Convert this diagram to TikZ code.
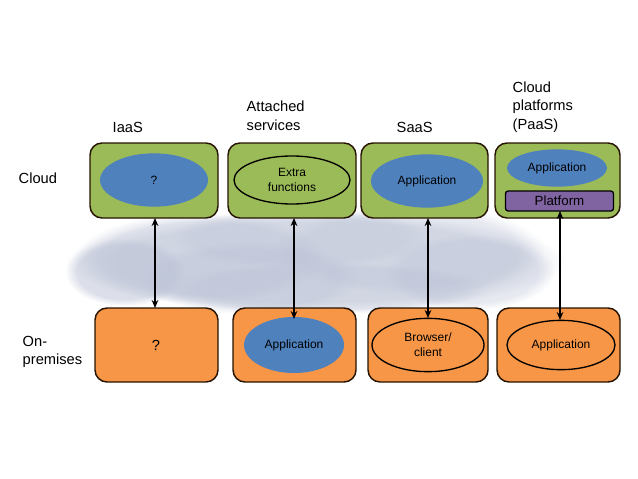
\documentclass[tikz,border=0pt]{standalone}
\usepackage{fontspec}
\setmainfont{Liberation Sans}
\usetikzlibrary{shapes.geometric,fadings,arrows.meta}
\begin{document}
\begin{tikzpicture}[x=0.75pt,y=-0.75pt,
 box/.style={draw=black!85!orange,line width=1.1pt,rounded corners=9pt},
 gbox/.style={box},
 obox/.style={box},
 ell/.style={ellipse,draw=none,font=\fontsize{9}{11}\selectfont,align=center,inner sep=0pt},
 oell/.style={ellipse,draw=black,line width=1pt,font=\fontsize{9}{11}\selectfont,align=center,inner sep=0pt},
 lab/.style={font=\fontsize{11}{14}\selectfont,align=left,anchor=west},
 arr/.style={{Stealth[length=6pt,width=5pt]}-{Stealth[length=6pt,width=5pt]},line width=0.8pt}]
\useasboundingbox (0,0) rectangle (638,478);
\definecolor{gfill}{RGB}{155,187,89}
\definecolor{ofill}{RGB}{247,150,70}
\definecolor{bfill}{RGB}{79,129,189}
\definecolor{pfill}{RGB}{128,100,162}
\definecolor{cl}{RGB}{185,192,212}
% cloud
\foreach \cx/\cy/\rx/\ry/\o in {315/262/250/50/0.45, 200/258/125/45/0.4, 410/250/135/45/0.35, 125/272/60/34/0.5, 300/238/130/30/0.3, 470/272/85/38/0.35, 330/288/160/26/0.35, 250/278/110/36/0.35}
  \fill[cl,opacity=\o,path fading=circle with fuzzy edge 20 percent] (\cx,\cy) ellipse [x radius=\rx*0.75pt,y radius=\ry*0.75pt];
% top boxes
\draw[gbox,fill=gfill] (90,143) rectangle (218,218);
\draw[gbox,fill=gfill] (228,143) rectangle (356,218);
\draw[gbox,fill=gfill] (361,143) rectangle (488,218);
\draw[gbox,fill=gfill] (495,143) rectangle (620,218);
\node[ell,fill=bfill,minimum width=81pt,minimum height=40pt] (t1) at (154,180) {?};
\node[oell,fill=gfill,minimum width=87pt,minimum height=36pt] (t2) at (292,180) {Extra\\functions};
\node[ell,fill=bfill,minimum width=84pt,minimum height=40pt] (t3) at (427,181) {Application};
\node[ell,fill=bfill,minimum width=75pt,minimum height=28pt] (t4) at (557,168) {Application};
\node[draw=black,line width=1pt,fill=pfill,rounded corners=2pt,minimum width=81pt,minimum height=15pt,inner sep=0pt,font=\fontsize{10}{12}\selectfont] (plat) at (559.5,201) {Platform};
% bottom boxes
\draw[obox,fill=ofill] (95,308) rectangle (218,382);
\draw[obox,fill=ofill] (233,308) rectangle (356,382);
\draw[obox,fill=ofill] (368,308) rectangle (488,382);
\draw[obox,fill=ofill] (497,308) rectangle (620,382);
\node[font=\fontsize{11}{13}\selectfont] (b1) at (156,345) {?};
\node[ell,fill=bfill,minimum width=75pt,minimum height=42pt] (b2) at (294,345) {Application};
\node[oell,fill=ofill,minimum width=84pt,minimum height=40pt] (b3) at (428,345) {Browser/\\client};
\node[oell,fill=ofill,minimum width=81pt,minimum height=37pt] (b4) at (561,345) {Application};
% arrows
\coordinate (a1) at (155,218); \coordinate (c1) at (155,308);
\coordinate (a2) at (294,218); \coordinate (c2) at (294,319);
\coordinate (a3) at (428,218); \coordinate (c3) at (428,318);
\coordinate (a4) at (560,211); \coordinate (c4) at (560,320);
\draw[arr] (a1) -- (c1);
\draw[arr] (a2) -- (c2);
\draw[arr] (a3) -- (c3);
\draw[arr] (a4) -- (c4);
% labels
\node[lab] (l1) at (108,127) {IaaS};
\node[lab] (l2) at (242,116) {Attached\\services};
\node[lab] (l3) at (392,127) {SaaS};
\node[lab] (l4) at (508,107) {Cloud\\platforms\\(PaaS)};
\node[lab] (l5) at (14,178) {Cloud};
\node[lab] (l6) at (18,352) {On-\\premises};
\end{tikzpicture}
\end{document}
